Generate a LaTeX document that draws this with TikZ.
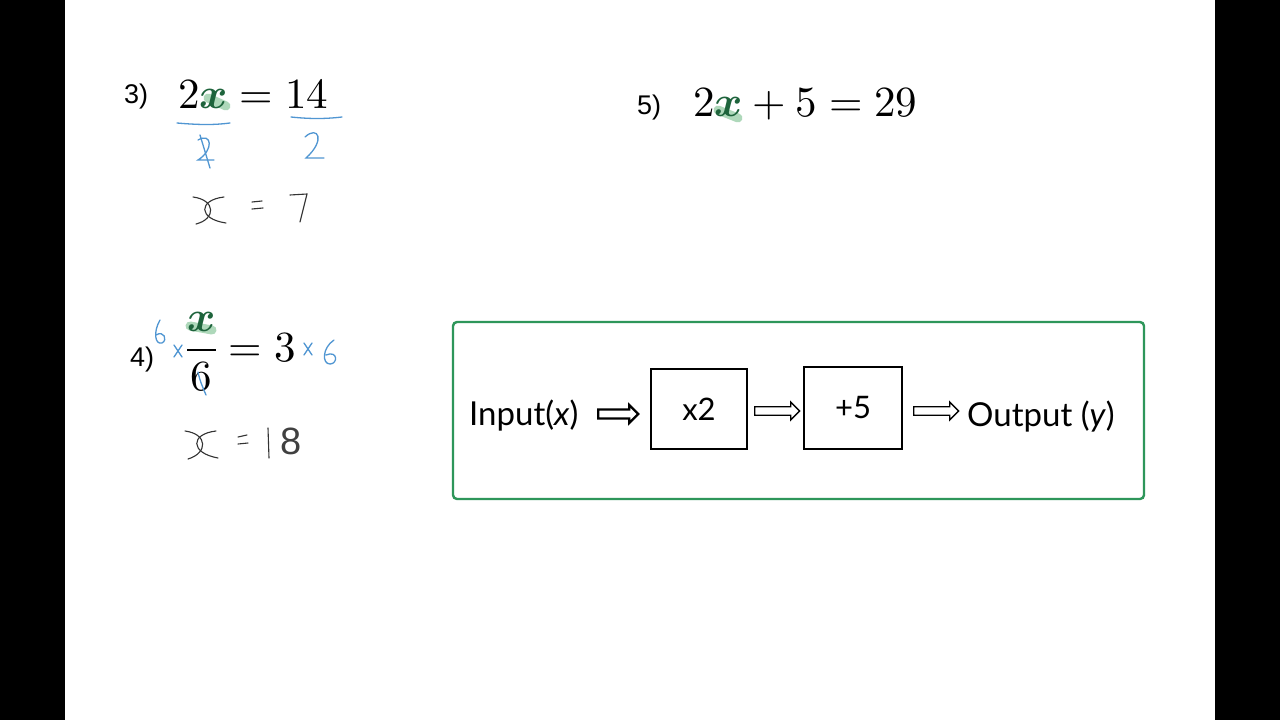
\documentclass[tikz,border=0pt]{standalone}
\usepackage{fontspec}
\usepackage{unicode-math}
\setmathfont{Latin Modern Math}
\setmainfont{Lato}
\newfontfamily\arial{Liberation Sans}
\usetikzlibrary{shapes.arrows}
\definecolor{gbox}{RGB}{46,150,90}
\definecolor{hl}{RGB}{120,190,140}
\definecolor{dx}{RGB}{30,100,60}
\definecolor{pen}{RGB}{80,150,210}
\begin{document}
\begin{tikzpicture}[x=1pt,y=-1pt,
  mth/.style={inner sep=0pt,font=\fontsize{43}{43}\selectfont},
  lbl/.style={inner sep=0pt,font=\arial\fontsize{27}{27}\selectfont},
  txt/.style={inner sep=0pt,font=\fontsize{33}{33}\selectfont},
  fbox/.style={draw,line width=1.6pt,minimum width=96pt,minimum height=80pt,font=\fontsize{31}{31}\selectfont},
  harrow/.style={single arrow,draw,line width=1.5pt,minimum height=40pt,minimum width=18pt,single arrow head extend=4pt,inner sep=3pt},
  penl/.style={pen,line width=1.3pt,line cap=round},
  ink/.style={black!80,line width=1.1pt,line cap=round},
  glow/.style={hl,opacity=.6,line width=9pt,line cap=round}]
\fill[black] (0,0) rectangle (1280,720);
\fill[white] (65,0) rectangle (1215,720);
% 3)
\node[lbl,anchor=west] (l3) at (124,97) {3)};
\draw[glow] (208,98) -- (226,106);
\node[mth,anchor=west] (e3) at (178,94) {$2\textcolor{dx}{\symbfit{x}} = 14$};
\draw[penl] (177,123) .. controls (200,125) and (215,125) .. (230,123);
\draw[penl] (291,117) .. controls (310,119) and (325,119) .. (342,117);
\draw[penl] (198,140) .. controls (212,132) and (214,150) .. (198,160) -- (214,160);
\draw[penl] (200,135) -- (210,168);
\draw[penl] (305,137) .. controls (318,125) and (326,140) .. (306,158) -- (324,158);
\draw[ink] (193,197) .. controls (216,200) and (216,219) .. (196,224);
\draw[ink] (224,197) .. controls (198,200) and (198,219) .. (226,223);
\draw[ink] (252,202) -- (262,201); \draw[ink] (252,209) -- (263,208);
\draw[ink] (290,195) -- (307,194) -- (300,222);
% 4)
\node[lbl,anchor=west] (l4) at (130,360) {4)};
\draw[glow] (190,326) -- (212,330);
\node[mth,anchor=west] (e4) at (186,352) {$\dfrac{\textcolor{dx}{\symbfit{x}}}{6} = 3$};
\draw[penl] (160,320) .. controls (153,332) and (155,345) .. (162,343) .. controls (168,340) and (164,330) .. (156,335);
\draw[penl] (174,345) -- (182,357); \draw[penl] (182,345) -- (174,357);
\draw[penl] (198,372) .. controls (200,382) and (204,390) .. (206,395);
\draw[penl] (304,343) -- (312,355); \draw[penl] (312,343) -- (304,355);
\draw[penl] (334,340) .. controls (322,348) and (322,364) .. (330,364) .. controls (338,364) and (338,350) .. (326,355);
\draw[ink] (185,431) .. controls (208,434) and (208,453) .. (188,459);
\draw[ink] (216,431) .. controls (190,434) and (190,453) .. (218,458);
\draw[ink] (238,437) -- (247,435); \draw[ink] (238,444) -- (248,443);
\draw[ink] (268,428) -- (269,458);
\node[inner sep=0pt,font=\fontsize{38}{38}\selectfont\fontspec{Liberation Sans}] (e18) at (291,441) {\color{black!75}8};
% 5)
\node[lbl,anchor=west] (l5) at (637,108) {5)};
\draw[glow] (718,110) -- (738,118);
\node[mth,anchor=west] (e5) at (693,104) {$2\textcolor{dx}{\symbfit{x}} + 5 = 29$};
% box
\draw[gbox,line width=2.4pt,rounded corners=4pt] (453,322) rectangle (1144,499);
\node[txt,anchor=west] (in) at (469,416) {Input(\textit{x})};
\node[fbox] (b1) at (699,409) {x2};
\node[fbox,minimum width=98pt,minimum height=82pt,line width=1.2pt] (b2) at (853,408) {+5};
\node[txt,anchor=west] (out) at (967,417) {Output (\textit{y})};
\node[harrow,line width=2.2pt] (a1) at (616,414) {};
\node[harrow,minimum height=45pt,line width=1.3pt] (a2) at (775,411) {};
\node[harrow,minimum height=45pt,line width=1.3pt] (a3) at (934,411) {};
\end{tikzpicture}
\end{document}
